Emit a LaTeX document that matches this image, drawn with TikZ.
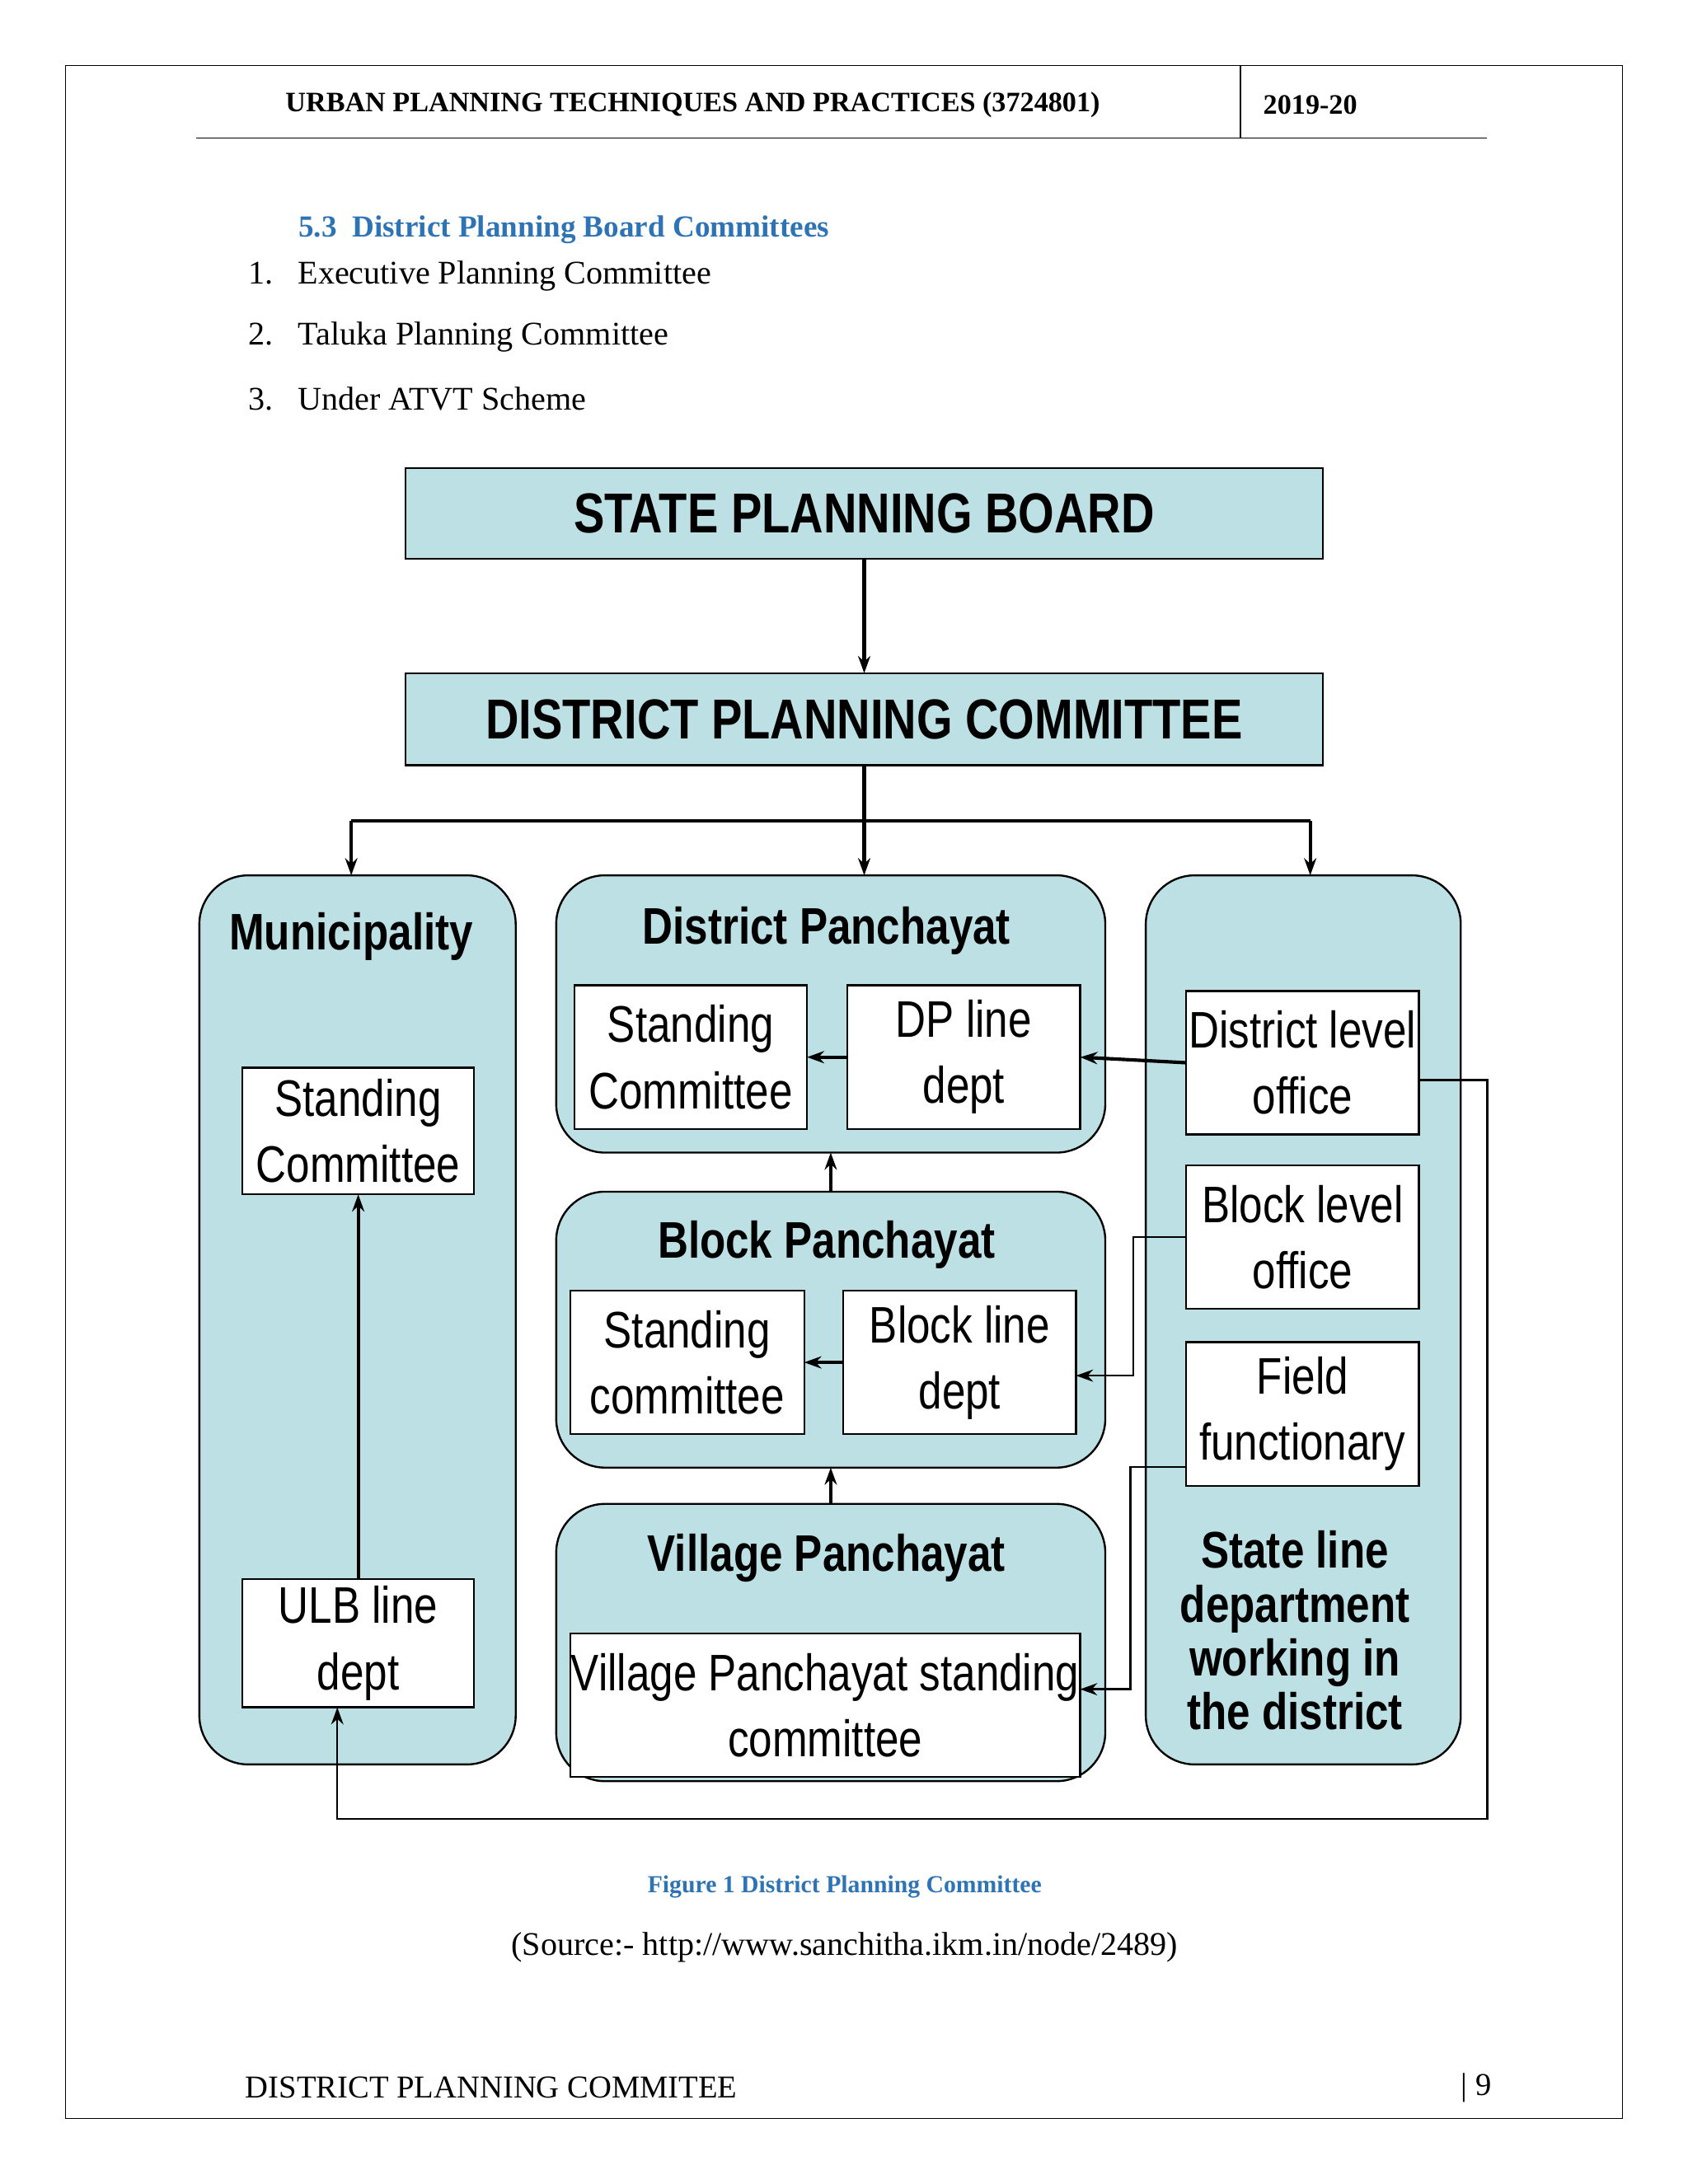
\documentclass[tikz,border=0pt]{standalone}
\usepackage{fontspec}
\setmainfont{Liberation Serif}
\newfontfamily\dia{Liberation Sans}[FakeStretch=0.82]
\usetikzlibrary{arrows.meta}
\definecolor{boxcyan}{HTML}{BCE0E3}
\definecolor{headblue}{HTML}{2E74B5}
\begin{document}
\begin{tikzpicture}[x=0.02cm,y=-0.02cm,
  box/.style={draw,line width=0.8pt,fill=boxcyan,inner sep=0,outer sep=0},
  group/.style={box,rounded corners=0.7cm},
  cell/.style={draw,line width=0.8pt,fill=white,inner sep=0,outer sep=0,align=center,
    font=\dia\fontsize{21}{27}\selectfont},
  title/.style={font=\dia\bfseries\fontsize{21}{26}\selectfont,align=center},
  arr/.style={line width=1.4pt,-{Stealth[length=7pt,width=5pt]}},
  thin/.style={line width=0.8pt,-{Stealth[length=7pt,width=5pt]}}]
  \useasboundingbox (0,0) rectangle (1211,1567);
  % page frame and header
  \draw[line width=0.6pt] (47,47) rectangle (1164,1520);
  \draw[line width=0.6pt] (890,47) -- (890,99);
  \draw[line width=0.6pt] (141,99) -- (1067,99);
  \node[font=\bfseries\fontsize{11.5}{14}\selectfont] (head) at (497,75) {URBAN PLANNING TECHNIQUES AND PRACTICES (3724801)};
  \node[font=\bfseries\fontsize{11.5}{14}\selectfont] (year) at (940,75) {2019-20};
  \node[anchor=west,text=headblue,font=\bfseries\fontsize{12.5}{15}\selectfont] (sec) at (208,165) {5.3\ \ District Planning Board Committees};
  \node[anchor=west,font=\fontsize{13.5}{16}\selectfont] (l1) at (172,198) {1.\ \ \ Executive Planning Committee};
  \node[anchor=west,font=\fontsize{13.5}{16}\selectfont] (l2) at (172,242) {2.\ \ \ Taluka Planning Committee};
  \node[anchor=west,font=\fontsize{13.5}{16}\selectfont] (l3) at (172,286) {3.\ \ \ Under ATVT Scheme};

  % top boxes
  \node[box,minimum width=13.16cm,minimum height=1.3cm,font=\dia\bfseries\fontsize{23}{28}\selectfont] (spb) at (620,368.5) {STATE PLANNING BOARD};
  \node[box,minimum width=13.16cm,minimum height=1.32cm,font=\dia\bfseries\fontsize{23}{28}\selectfont] (dpc) at (620,516) {DISTRICT PLANNING COMMITTEE};

  % groups
  \node[group,minimum width=4.54cm,minimum height=12.76cm] (mun) at (256.5,947) {};
  \node[group,minimum width=7.88cm,minimum height=3.98cm] (dp) at (596,727.5) {};
  \node[group,minimum width=7.88cm,minimum height=3.96cm] (bp) at (596,954) {};
  \node[group,minimum width=7.88cm,minimum height=3.98cm] (vp) at (596,1178.5) {};
  \node[group,minimum width=4.52cm,minimum height=12.76cm] (st) at (935,947) {};
  \node[title] (munt) at (252,672) {Municipality};
  \node[title] (dpt) at (593,668) {District Panchayat};
  \node[title] (bpt) at (593,893) {Block Panchayat};
  \node[title] (vpt) at (593,1118) {Village Panchayat};
  \node[title,font=\dia\bfseries\fontsize{21}{22}\selectfont] (stt) at (929,1170) {State line\\department\\working in\\the district};

  % cells
  \node[cell,minimum width=3.32cm,minimum height=1.82cm] (msc) at (257,811.5) {Standing\\Committee};
  \node[cell,minimum width=3.32cm,minimum height=1.84cm] (ulb) at (257,1179) {ULB line\\dept};
  \node[cell,minimum width=3.34cm,minimum height=2.06cm] (dpsc) at (495.5,758.5) {Standing\\Committee};
  \node[cell,minimum width=3.34cm,minimum height=2.06cm] (dpld) at (691.5,758.5) {DP line\\dept};
  \node[cell,minimum width=3.36cm,minimum height=2.06cm] (bpsc) at (493,977.5) {Standing\\committee};
  \node[cell,minimum width=3.34cm,minimum height=2.06cm] (bpld) at (688.5,977.5) {Block line\\dept};
  \node[cell,minimum width=7.32cm,minimum height=2.06cm] (vpsc) at (592,1223.5) {Village Panchayat standing\\committee};
  \node[cell,minimum width=3.34cm,minimum height=2.06cm] (dlo) at (934.5,762.5) {District level\\office};
  \node[cell,minimum width=3.34cm,minimum height=2.06cm] (blo) at (934.5,887.5) {Block level\\office};
  \node[cell,minimum width=3.34cm,minimum height=2.06cm] (ff) at (934.5,1014.5) {Field\\functionary};

  % connectors
  \coordinate (jl) at (252,589);
  \coordinate (jr) at (940,589);
  \coordinate (bot) at (242,1305);
  \draw[arr] (spb.south) -- (dpc.south |- dpc.north);
  \draw[arr] (dpc.south) -- (dpc.south |- dp.north);
  \draw[line width=1.4pt] (jl) -- (jr);
  \draw[arr] (jl) -- (jl |- mun.north);
  \draw[arr] (jr) -- (jr |- st.north);
  \draw[arr] (ulb.north) -- (msc.south);
  \draw[arr] (dpld.west) -- (dpsc.east);
  \draw[arr] (bpld.west) -- (bpsc.east);
  \draw[arr] (bp.north) -- (dp.south);
  \draw[arr] (vp.north) -- (bp.south);
  \draw[arr] (dlo.west) -- (dpld.east);
  \draw[thin] (blo.west) -- ++(-38,0) |- ([yshift=-0.19cm]bpld.east);
  \draw[thin] ([yshift=-0.76cm]ff.west) -- ++(-40,0) |- ([yshift=0.23cm]vpsc.east);
  \draw[thin] ([yshift=-0.25cm]dlo.east) -- ++(49,0) |- (bot) -- (bot |- ulb.south);

  % caption and footer
  \node[text=headblue,font=\bfseries\fontsize{10}{12}\selectfont] (cap) at (606,1354) {Figure 1 District Planning Committee};
  \node[font=\fontsize{13.5}{16}\selectfont] (src) at (606,1397) {(Source:- http://www.sanchitha.ikm.in/node/2489)};
  \node[anchor=west,font=\fontsize{13}{16}\selectfont] (foot) at (170,1498) {DISTRICT PLANNING COMMITEE};
  \node[anchor=west,font=\fontsize{13}{16}\selectfont] (page) at (1042,1498) {| 9};
\end{tikzpicture}
\end{document}
